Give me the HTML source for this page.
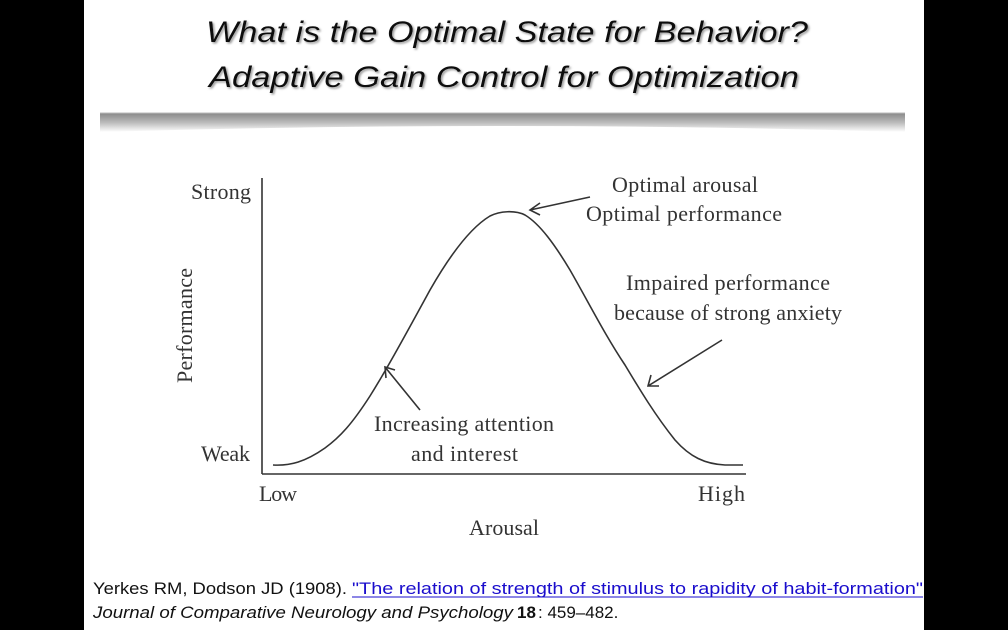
<!DOCTYPE html>
<html><head><style>
html,body{margin:0;padding:0;background:#000;}
svg{display:block}
</style></head><body>
<svg width="1008" height="630" xmlns="http://www.w3.org/2000/svg">
<defs>
<linearGradient id="sh" x1="0" y1="0" x2="0" y2="1">
<stop offset="0" stop-color="#888"/><stop offset="0.5" stop-color="#bbb"/><stop offset="1" stop-color="#fff"/>
</linearGradient>
<filter id="ts"><feDropShadow dx="1.5" dy="1.5" stdDeviation="1" flood-color="#999"/></filter>
</defs>
<rect x="0" y="0" width="1008" height="630" fill="#000"/>
<rect x="84" y="0" width="840" height="630" fill="#fff"/>
<path d="M100 113 L905 113 L905 132 Q500 120 100 132 Z" fill="url(#sh)"/>
<rect x="100" y="8" width="805" height="105" fill="#fff"/>
<line x1="100" y1="113" x2="905" y2="113" stroke="#bbb" stroke-width="1"/>
<g font-family="Liberation Sans, sans-serif" font-style="italic" font-size="30" fill="#111" filter="url(#ts)">
<text x="206" y="42" textLength="602" lengthAdjust="spacingAndGlyphs">What is the Optimal State for Behavior?</text>
<text x="209" y="87" textLength="590" lengthAdjust="spacingAndGlyphs">Adaptive Gain Control for Optimization</text>
</g>
<g stroke="#333" stroke-width="1.6" fill="none">
<line x1="262" y1="178" x2="262" y2="474"/>
<line x1="262" y1="474" x2="746" y2="474"/>
<path d="M273 465 C290 466 305 462 325 448 C340 437 352 424 370 396 C385 372 400 345 430 290 C450 255 470 228 490 216 C500 211 515 210 525 215 C540 224 555 245 570 270 C590 305 605 335 625 365 C640 390 655 415 675 440 C690 457 705 464 725 465 L743 465"/>
<path d="M590 197 L530 210 M540 203 L530 210 L540 215"/>
<path d="M722 340 L648 386 M651 375 L648 386 L659 386"/>
<path d="M420 410 L385 367 M386 378 L385 367 L395 370"/>
</g>
<g font-family="Liberation Serif, serif" font-size="22" fill="#333" lengthAdjust="spacingAndGlyphs">
<text x="191" y="199" textLength="60">Strong</text>
<text x="201" y="461" textLength="49">Weak</text>
<text x="259" y="501" textLength="38">Low</text>
<text x="698" y="501" textLength="47">High</text>
<text x="469" y="535" textLength="70">Arousal</text>
<text transform="translate(192,383) rotate(-90)" textLength="115">Performance</text>
<text x="612" y="192" textLength="146">Optimal arousal</text>
<text x="586" y="221" textLength="196">Optimal performance</text>
<text x="626" y="290" textLength="204">Impaired performance</text>
<text x="614" y="320" textLength="228">because of strong anxiety</text>
<text x="374" y="431" textLength="180">Increasing attention</text>
<text x="411" y="461" textLength="107">and interest</text>
</g>
<g font-family="Liberation Sans, sans-serif" font-size="17" fill="#111">
<text x="93" y="594" textLength="254" lengthAdjust="spacingAndGlyphs">Yerkes RM, Dodson JD (1908).</text>
<text x="352" y="594" fill="#1a0dcc" textLength="571" lengthAdjust="spacingAndGlyphs">"The relation of strength of stimulus to rapidity of habit-formation"</text>
<line x1="352" y1="597" x2="923" y2="597" stroke="#1a0dcc" stroke-width="1"/>
<text x="93" y="618" font-style="italic" textLength="420" lengthAdjust="spacingAndGlyphs">Journal of Comparative Neurology and Psychology</text>
<text x="517" y="618" font-weight="bold">18</text>
<text x="538" y="618">: 459–482.</text>
</g>
</svg>
</body></html>
